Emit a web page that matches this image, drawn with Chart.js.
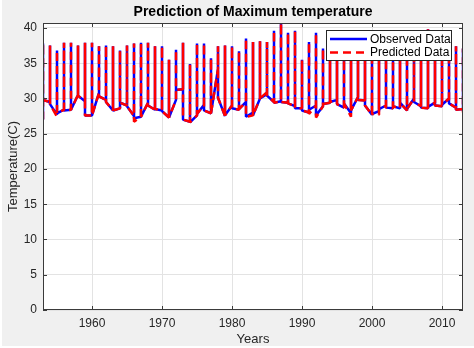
<!DOCTYPE html>
<html>
<head>
<meta charset="utf-8">
<title>Prediction of Maximum temperature</title>
<script src="https://cdn.jsdelivr.net/npm/chart.js@4.4.0/dist/chart.umd.min.js"></script>
<style>
    html, body { margin: 0; padding: 0; background: #ffffff; }
    #wrap { width: 474px; height: 348px; }
</style>
</head>
<body>
<div id="wrap"><canvas id="tempChart" width="474" height="348"></canvas></div>
<script>
// ─────────────────────────────────────────────
// DATA  (one spike per year: low at start, annual max, low at end)
// ─────────────────────────────────────────────
var years = [
    1953, 1954, 1955, 1956, 1957, 1958, 1959, 1960, 1961, 1962,
    1963, 1964, 1965, 1966, 1967, 1968, 1969, 1970, 1971, 1972,
    1973, 1974, 1975, 1976, 1977, 1978, 1979, 1980, 1981, 1982,
    1983, 1984, 1985, 1986, 1987, 1988, 1989, 1990, 1991, 1992,
    1993, 1994, 1995, 1996, 1997, 1998, 1999, 2000, 2001, 2002,
    2003, 2004, 2005, 2006, 2007, 2008, 2009, 2010, 2011, 2012,
    2013
];

var obsStart = [
    27.0, 29.5, 27.7, 28.4, 28.4, 30.5, 29.6, 27.6, 30.8, 29.8,
    28.3, 28.6, 29.0, 27.5, 27.4, 29.4, 28.4, 28.3, 27.3, 29.8,
    31.3, 26.7, 27.6, 29.1, 27.9, 34.2, 27.5, 29.0, 28.4, 29.5,
    28.0, 30.0, 30.6, 29.5, 29.6, 29.4, 28.9, 28.6, 28.0, 29.0,
    28.9, 29.4, 29.8, 28.7, 27.9, 30.2, 29.7, 27.7, 28.2, 29.0,
    28.6, 28.6, 28.3, 30.0, 28.9, 28.6, 29.4, 28.9, 30.0, 28.7,
    28.5
];
var obsPeak = [
    37.8, 37.5, 36.8, 37.9, 37.9, 37.5, 37.9, 37.9, 37.4, 37.5,
    37.4, 36.8, 37.5, 37.8, 37.9, 37.9, 37.4, 37.4, 35.5, 36.9,
    37.9, 34.9, 37.8, 37.8, 35.7, 37.4, 37.5, 37.4, 36.7, 38.5,
    38.0, 38.1, 38.0, 39.6, 40.7, 39.3, 39.6, 35.5, 38.0, 39.3,
    37.1, 37.6, 38.2, 37.4, 37.0, 37.9, 37.2, 38.4, 36.9, 37.5,
    37.3, 38.0, 37.1, 37.8, 36.8, 39.8, 37.4, 38.2, 36.6, 37.4,
    37.1
];
var obsEnd = [
    29.8, 29.2, 27.9, 28.3, 28.4, 30.4, 27.6, 27.6, 30.3, 29.5,
    28.3, 29.4, 28.9, 27.2, 27.4, 29.0, 28.5, 28.2, 27.3, 31.2,
    27.0, 26.6, 27.8, 28.3, 27.9, 30.1, 27.6, 28.6, 28.5, 27.4,
    27.6, 30.0, 30.4, 29.4, 29.5, 29.3, 28.6, 28.3, 28.4, 27.6,
    29.2, 29.5, 29.2, 29.3, 28.3, 29.8, 29.0, 27.8, 28.5, 28.7,
    28.9, 29.4, 28.5, 29.5, 28.7, 28.8, 29.0, 29.1, 29.3, 28.4,
    28.6
];

var predStart = [
    27.0, 29.5, 27.4, 28.4, 28.4, 30.5, 29.6, 27.6, 30.8, 29.8,
    28.3, 28.6, 29.0, 27.5, 27.4, 29.4, 28.4, 28.3, 27.3, 29.8,
    31.3, 26.7, 27.6, 29.1, 27.9, 34.2, 27.5, 29.0, 28.4, 29.5,
    27.6, 30.0, 30.9, 29.5, 29.6, 29.4, 28.9, 28.6, 28.0, 29.0,
    28.9, 29.4, 29.8, 28.7, 27.4, 30.2, 29.7, 27.7, 27.7, 29.0,
    28.6, 28.6, 28.3, 30.0, 28.9, 28.6, 29.4, 28.9, 30.0, 28.7,
    28.5
];
var predPeak = [
    37.8, 37.5, 36.8, 37.9, 37.9, 37.5, 37.9, 37.9, 37.4, 37.5,
    37.4, 36.8, 37.5, 37.8, 37.9, 37.9, 37.4, 37.4, 35.5, 36.9,
    37.9, 34.9, 37.8, 37.8, 35.7, 37.4, 37.5, 37.4, 36.7, 38.5,
    38.0, 38.1, 38.0, 39.6, 40.7, 39.3, 39.6, 35.5, 38.0, 39.3,
    37.1, 37.6, 38.2, 37.4, 37.0, 37.9, 37.2, 38.4, 36.9, 37.5,
    37.3, 38.0, 37.1, 37.8, 36.8, 39.8, 37.4, 38.2, 36.6, 37.4,
    37.1
];
var predEnd = [
    29.8, 29.2, 27.9, 28.3, 28.4, 30.4, 27.6, 27.6, 30.3, 29.5,
    28.3, 29.4, 28.9, 26.7, 27.4, 29.0, 28.5, 28.2, 27.3, 31.2,
    27.0, 26.6, 27.8, 28.3, 27.9, 30.1, 27.6, 28.6, 28.5, 27.4,
    27.6, 30.0, 30.4, 29.4, 29.5, 29.3, 28.6, 28.3, 27.8, 27.3,
    29.2, 29.5, 29.2, 29.3, 28.3, 29.8, 29.0, 27.8, 28.5, 28.7,
    28.9, 29.4, 28.5, 29.5, 28.7, 28.8, 29.0, 29.1, 29.3, 28.4,
    28.0
];

var xTicks = [1960, 1970, 1980, 1990, 2000, 2010];
var yTicks = [0, 5, 10, 15, 20, 25, 30, 35, 40];

// ─────────────────────────────────────────────
// HELPERS
// ─────────────────────────────────────────────
var FONT = '"Liberation Sans", Arial, sans-serif';
var DASH = [8, 5];

function buildSeries(start, peak, end) {
    var pts = [];
    years.forEach(function (yr, i) {
        pts.push({ x: yr, y: start[i] });
        pts.push({ x: yr, y: peak[i] });
        pts.push({ x: yr, y: end[i] });
    });
    return pts;
}

// figure background, axes box, inner ticks, titles and legend
var figurePlugin = {
    id: 'figureDecor',
    beforeDraw: function (chart) {
        var ctx = chart.ctx, a = chart.chartArea;
        ctx.save();
        ctx.fillStyle = '#f0f0f0';
        ctx.fillRect(2, 0, chart.width - 2, chart.height - 2);
        ctx.fillStyle = '#ffffff';
        ctx.fillRect(a.left, a.top, a.right - a.left, a.bottom - a.top);
        ctx.restore();
    },
    afterDraw: function (chart) {
        var ctx = chart.ctx, a = chart.chartArea;
        var xs = chart.scales.x, ys = chart.scales.y;
        ctx.save();

        // box + ticks pointing inwards
        ctx.strokeStyle = '#3a3a3a';
        ctx.lineWidth = 1;
        ctx.strokeRect(a.left + 0.5, a.top + 0.5, a.right - a.left - 1, a.bottom - a.top - 1);
        ctx.beginPath();
        xTicks.forEach(function (v) {
            var px = Math.round(xs.getPixelForValue(v)) + 0.5;
            ctx.moveTo(px, a.bottom); ctx.lineTo(px, a.bottom - 4);
            ctx.moveTo(px, a.top);    ctx.lineTo(px, a.top + 4);
        });
        yTicks.forEach(function (v) {
            var py = Math.round(ys.getPixelForValue(v)) + 0.5;
            ctx.moveTo(a.left, py);  ctx.lineTo(a.left + 4, py);
            ctx.moveTo(a.right, py); ctx.lineTo(a.right - 4, py);
        });
        ctx.stroke();

        // titles
        ctx.fillStyle = '#000000';
        ctx.textAlign = 'center';
        ctx.textBaseline = 'alphabetic';
        ctx.font = 'bold 14px ' + FONT;
        ctx.fillText('Prediction of Maximum temperature', (a.left + a.right) / 2, 15.5);

        ctx.fillStyle = '#262626';
        ctx.font = '13px ' + FONT;
        ctx.fillText('Years', (a.left + a.right) / 2, 343);

        ctx.save();
        ctx.translate(16.5, (a.top + a.bottom) / 2);
        ctx.rotate(-Math.PI / 2);
        ctx.fillText('Temperature(C)', 0, 0);
        ctx.restore();

        // legend box
        var lx = 326, ly = 30, lw = 126, lh = 31;
        ctx.fillStyle = '#ffffff';
        ctx.fillRect(lx, ly, lw, lh);
        ctx.strokeStyle = '#262626';
        ctx.strokeRect(lx + 0.5, ly + 0.5, lw - 1, lh - 1);

        ctx.font = '12px ' + FONT;
        ctx.textAlign = 'left';
        ctx.textBaseline = 'middle';
        chart.data.datasets.forEach(function (ds, i) {
            var rowY = ly + 9 + i * 13.5;
            ctx.strokeStyle = ds.borderColor;
            ctx.lineWidth = ds.borderWidth;
            ctx.setLineDash(ds.borderDash || []);
            ctx.beginPath();
            ctx.moveTo(lx + 4, rowY);
            ctx.lineTo(lx + 41, rowY);
            ctx.stroke();
            ctx.setLineDash([]);
            ctx.fillStyle = '#000000';
            ctx.fillText(ds.label, lx + 44, rowY + 0.5);
        });

        ctx.restore();
    }
};

// ─────────────────────────────────────────────
// CHART
// ─────────────────────────────────────────────
new Chart(document.getElementById('tempChart').getContext('2d'), {
    type: 'line',
    data: {
        datasets: [
            {
                label:          'Observed Data',
                data:           buildSeries(obsStart, obsPeak, obsEnd),
                borderColor:    '#0000ff',
                borderWidth:    2.5,
                pointRadius:    0,
                tension:        0,
                fill:           false,
                borderJoinStyle: 'bevel',
                order:          2
            },
            {
                label:          'Predicted Data',
                data:           buildSeries(predStart, predPeak, predEnd),
                borderColor:    '#ff0000',
                borderWidth:    2.5,
                borderDash:     DASH,
                pointRadius:    0,
                tension:        0,
                fill:           false,
                borderJoinStyle: 'bevel',
                order:          1
            }
        ]
    },
    options: {
        responsive: false,
        devicePixelRatio: 1,
        animation: false,
        events: [],
        layout: { padding: { top: 23, right: 11, left: 0, bottom: 0 } },
        plugins: {
            legend:  { display: false },
            tooltip: { enabled: false },
            title:   { display: false }
        },
        scales: {
            x: {
                type: 'linear',
                min: 1953,
                max: 2013,
                afterBuildTicks: function (scale) {
                    scale.ticks = xTicks.map(function (v) { return { value: v }; });
                },
                afterFit: function (scale) { scale.height = 38; },
                grid:   { color: '#e3e3e3', drawTicks: false },
                border: { display: false },
                ticks: {
                    padding: 6,
                    color: '#262626',
                    font: { family: FONT, size: 12 },
                    callback: function (v) { return String(v); }
                }
            },
            y: {
                min: 0,
                max: 40.7,
                afterBuildTicks: function (scale) {
                    scale.ticks = yTicks.map(function (v) { return { value: v }; });
                },
                afterFit: function (scale) { scale.width = 43; },
                grid:   { color: '#e3e3e3', drawTicks: false },
                border: { display: false },
                ticks: {
                    padding: 6,
                    color: '#262626',
                    font: { family: FONT, size: 12 },
                    callback: function (v) { return String(v); }
                }
            }
        }
    },
    plugins: [figurePlugin]
});
</script>
</body>
</html>
